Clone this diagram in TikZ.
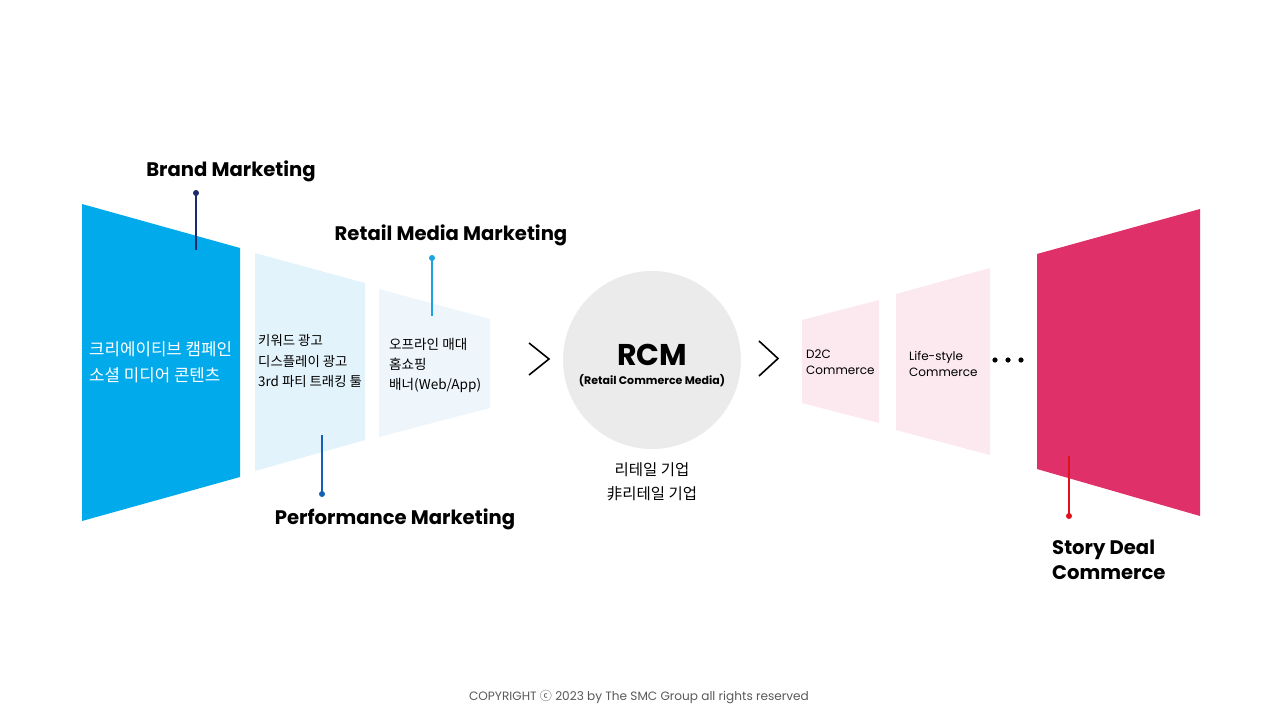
\documentclass[tikz,border=0pt]{standalone}
\usepackage{fontspec}
\setmainfont{Poppins}
\newfontfamily\kr{Noto Sans CJK KR}
\usepackage{tikz}

\definecolor{brandblue}{RGB}{0,170,235}
\definecolor{perfblue}{RGB}{227,243,251}
\definecolor{retailblue}{RGB}{238,246,252}
\definecolor{rcmgray}{RGB}{235,235,235}
\definecolor{softpink}{RGB}{252,232,239}
\definecolor{storypink}{RGB}{224,48,105}
\definecolor{navyline}{RGB}{26,42,108}
\definecolor{skyline}{RGB}{26,163,224}
\definecolor{midline}{RGB}{21,96,176}
\definecolor{redline}{RGB}{224,16,30}

\begin{document}
\begin{tikzpicture}[x=1pt,y=-1pt,
    title/.style={font=\bfseries\fontsize{19.6}{25}\selectfont, inner sep=0},
    body/.style={font=\kr\fontsize{13.4}{20.5}\selectfont, align=left, anchor=west, inner sep=0},
    pin/.style={line width=1.5pt},
    chevron/.style={line width=1.6pt}]
    \useasboundingbox (0,0) rectangle (1280,720);
    % funnel shapes
    \fill[brandblue] (82,204) -- (240,248) -- (240,477) -- (82,521) -- cycle;
    \fill[perfblue] (255,253) -- (365,283) -- (365,440) -- (255,471) -- cycle;
    \fill[retailblue] (379,289) -- (490,319) -- (490,408) -- (379,437) -- cycle;
    \fill[rcmgray] (652,360) circle (89);
    \fill[softpink] (802,320) -- (879,300) -- (879,423) -- (802,403) -- cycle;
    \fill[softpink] (896,294) -- (990,268) -- (990,455) -- (896,430) -- cycle;
    \fill[storypink] (1037,254) -- (1200,209) -- (1200,516) -- (1037,469) -- cycle;
    \draw[chevron] (529,343) -- (549,359) -- (529,375);
    \draw[chevron] (759,341) -- (778,358.5) -- (759,376);
    \foreach \x in {995,1008,1021} \fill (\x,360) circle (2.6);

    % texts in the shapes
    \node[body, text=white, font=\kr\fontsize{16.8}{26}\selectfont] (creative) at (89,362) {크리에이티브 캠페인\\소셜 미디어 콘텐츠};
    \node[body] (perfitems) at (258,361) {키워드 광고\\디스플레이 광고\\3rd 파티 트래킹 툴};
    \node[body, font=\kr\fontsize{13.6}{20}\selectfont] (retailitems) at (389,365) {오프라인 매대\\홈쇼핑\\배너(Web/App)};
    \node[font=\bfseries\fontsize{30}{32}\selectfont, inner sep=0] (rcm) at (652,355) {RCM};
    \node[font=\bfseries\fontsize{11}{13}\selectfont, inner sep=0] (rcmsub) at (652,381) {(Retail Commerce Media)};
    \node[body, anchor=center, align=center, font=\kr\fontsize{15.5}{24}\selectfont] (firms) at (652,482) {리테일 기업\\非리테일 기업};
    \node[body, font=\fontsize{12}{16}\selectfont] (d2c) at (806,362) {D2C\\Commerce};
    \node[body, font=\fontsize{12}{16}\selectfont] (life) at (909,364) {Life-style\\Commerce};

    % titles and pins
    \node[title] (brand) at (231,171.5) {Brand Marketing};
    \node[title] (retail) at (451,235.5) {Retail Media Marketing};
    \node[title] (perf) at (395,519.5) {Performance Marketing};
    \node[title, align=left, anchor=west] (story) at (1052,559.5) {Story Deal\\Commerce};
    \coordinate (brandpin) at (196,193); \coordinate (brandend) at (196,250);
    \coordinate (retailpin) at (432,258); \coordinate (retailend) at (432,316);
    \coordinate (perfpin) at (322,494); \coordinate (perfend) at (322,435);
    \coordinate (storypin) at (1069,516); \coordinate (storyend) at (1069,456);
    \draw[pin, navyline] (brandpin) -- (brandend); \fill[navyline] (brandpin) circle (3);
    \draw[pin, skyline] (retailpin) -- (retailend); \fill[skyline] (retailpin) circle (3);
    \draw[pin, midline] (perfpin) -- (perfend); \fill[midline] (perfpin) circle (3);
    \draw[pin, redline] (storypin) -- (storyend); \fill[redline] (storypin) circle (3);

    \node[text=black!65, font=\fontsize{12.1}{14}\selectfont, inner sep=0] (copy) at (639,697) {COPYRIGHT {\kr ⓒ} 2023 by The SMC Group all rights reserved};
\end{tikzpicture}
\end{document}
